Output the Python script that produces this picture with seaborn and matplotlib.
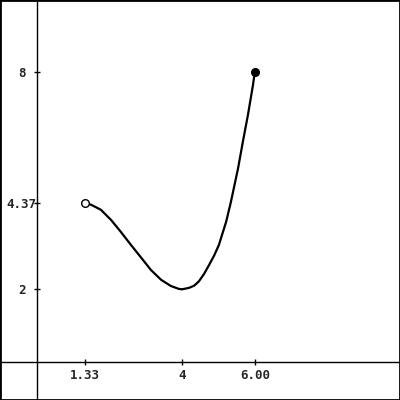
import matplotlib
matplotlib.use("Agg")
import matplotlib.pyplot as plt
import seaborn as sns
import pandas as pd
from matplotlib.patches import Rectangle

# data
curve_x = [1.33, 1.49, 1.76, 2.04, 2.31, 2.59, 2.87, 3.14, 3.42, 3.69, 3.91, 4.00, 4.19, 4.33, 4.46, 4.60, 4.74, 4.88, 5.01, 5.21, 5.34, 5.54, 5.67, 5.81, 5.95, 6.00]
curve_y = [4.37, 4.33, 4.19, 3.91, 3.58, 3.22, 2.87, 2.53, 2.26, 2.09, 2.01, 2.00, 2.04, 2.10, 2.22, 2.42, 2.67, 2.93, 3.22, 3.86, 4.40, 5.34, 6.06, 6.80, 7.63, 8.00]
x_ticks = [1.33, 4, 6.00]
x_tick_labels = ["1.33", "4", "6.00"]
y_ticks = [8, 4.37, 2]
y_tick_labels = ["8", "4.37", "2"]
open_pt = (1.33, 4.37)
closed_pt = (6.00, 8.00)

sns.set_style("white")
plt.rcParams['font.family'] = ['DejaVu Sans Mono', 'DejaVu Sans']

fig = plt.figure(figsize=(4, 4), dpi=100)
ax = fig.add_axes([0, 0, 1, 1])
ax.set_xlim(-1.02, 10.00)
ax.set_ylim(-1.05, 9.97)

df = pd.DataFrame({"x": curve_x, "y": curve_y})
sns.lineplot(data=df, x="x", y="y", sort=False, color="black", linewidth=1.6, ax=ax)
ax.plot([open_pt[0]], [open_pt[1]], marker="o", markersize=5.5, markerfacecolor="white",
        markeredgecolor="black", markeredgewidth=1, zorder=5)
ax.plot([closed_pt[0]], [closed_pt[1]], marker="o", markersize=5.5, markerfacecolor="black",
        markeredgecolor="black", zorder=5)

for s in ["top", "right"]:
    ax.spines[s].set_visible(False)
ax.spines["left"].set_position(("data", 0))
ax.spines["bottom"].set_position(("data", 0))
for s in ["left", "bottom"]:
    ax.spines[s].set_color("black")
    ax.spines[s].set_linewidth(1)

ax.set_xticks(x_ticks)
ax.set_xticklabels(x_tick_labels, fontsize=9, fontweight="bold")
ax.set_yticks(y_ticks)
ax.set_yticklabels(y_tick_labels, fontsize=9, fontweight="bold")
ax.tick_params(axis="both", which="major", direction="inout", length=4, width=1,
               color="black", bottom=True, left=True)
ax.tick_params(axis="x", pad=3)
ax.tick_params(axis="y", pad=9)
for lab in ax.get_yticklabels():
    lab.set_horizontalalignment("center")
ax.set_xlabel("")
ax.set_ylabel("")

fig.patches.append(Rectangle((0, 0), 1, 1, transform=fig.transFigure, fill=False,
                             edgecolor="black", linewidth=2, zorder=10))
fig.savefig("out.png", dpi=100)
